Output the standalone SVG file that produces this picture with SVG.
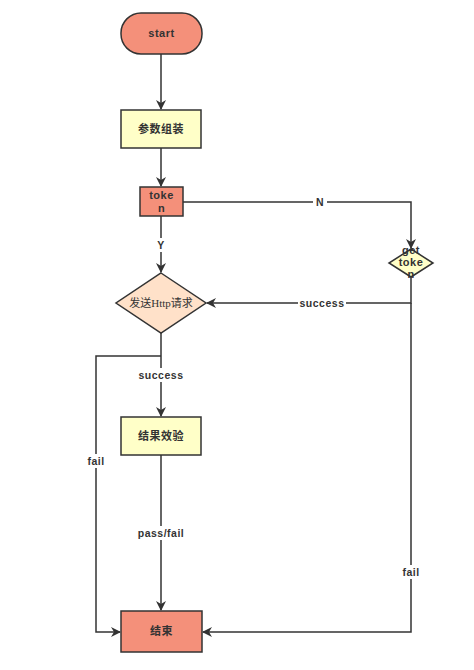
<svg xmlns="http://www.w3.org/2000/svg" width="474" height="670" viewBox="0 0 474 670">
<defs>
<marker id="arr" markerWidth="10" markerHeight="10" refX="9" refY="5" orient="auto" markerUnits="userSpaceOnUse">
<path d="M0,0 L10,5 L0,10 L3,5 Z" fill="#333"/>
</marker>
<style>
.salmon{fill:#F4907A;stroke:#333;stroke-width:1.5}
.yellow{fill:#FFFFC8;stroke:#333;stroke-width:1.5}
.peach{fill:#FFE1C9;stroke:#333;stroke-width:1.5}
.t{font-family:"Liberation Sans","Noto Sans CJK SC",sans-serif;font-size:11px;font-weight:bold;fill:#333;text-anchor:middle;letter-spacing:0.5px}
.c{fill:none;stroke:#333;stroke-width:1.5}
.lbl{font-family:"Liberation Sans",sans-serif;font-size:10.5px;font-weight:bold;fill:#333;text-anchor:middle;letter-spacing:0.5px}
.bg{fill:#fff}
</style>
</defs>
<rect width="474" height="670" fill="#fff"/>
<g id="connectors">
<path class="c" d="M161,54 V109" marker-end="url(#arr)"/>
<path class="c" d="M161,148 V186" marker-end="url(#arr)"/>
<path class="c" d="M161,216 V272" marker-end="url(#arr)"/>
<path class="c" d="M183,202 H411 V248" marker-end="url(#arr)"/>
<path class="c" d="M411,277 V303 H207" marker-end="url(#arr)"/>
<path class="c" d="M161,333 V416" marker-end="url(#arr)"/>
<path class="c" d="M161,356 H96 V632 H120" marker-end="url(#arr)"/>
<path class="c" d="M161,455 V610" marker-end="url(#arr)"/>
<path class="c" d="M411,303 V632 H203" marker-end="url(#arr)"/>
<rect class="bg" x="155" y="238" width="12" height="14"/>
<text class="lbl" x="161" y="249">Y</text>
<rect class="bg" x="313" y="196" width="14" height="13"/>
<text class="lbl" x="320" y="206">N</text>
<rect class="bg" x="298" y="297" width="48" height="13"/>
<text class="lbl" x="322" y="307">success</text>
<rect class="bg" x="137" y="368" width="48" height="14"/>
<text class="lbl" x="161" y="379">success</text>
<rect class="bg" x="86" y="454" width="21" height="14"/>
<text class="lbl" x="96" y="465">fail</text>
<rect class="bg" x="136" y="526" width="51" height="14"/>
<text class="lbl" x="161" y="537">pass/fail</text>
<rect class="bg" x="401" y="565" width="21" height="14"/>
<text class="lbl" x="411" y="576">fail</text>
</g>
<g id="start">
<rect class="salmon" x="121" y="13" width="81" height="41" rx="20" ry="20"/>
<text class="t" x="161.5" y="37">start</text>
</g>
<g id="params">
<rect class="yellow" x="121" y="110" width="80" height="38"/>
<text class="t" x="161" y="133">参数组装</text>
</g>
<g id="token">
<rect class="salmon" x="140" y="187" width="43" height="29"/>
<text class="t" x="161.5" y="199">toke</text>
<text class="t" x="161.5" y="212">n</text>
</g>
<g id="gettoken">
<polygon class="yellow" points="411,249 433,263 411,277 389,263"/>
<text class="t" x="411" y="254">get</text>
<text class="t" x="411" y="266">toke</text>
<text class="t" x="411" y="278">n</text>
</g>
<g id="send">
<polygon class="peach" points="161,273 206,303 161,333 116,303"/>
<text x="161" y="307" style="font-family:'Liberation Serif','Noto Sans CJK SC',serif;font-size:11px;fill:#333;text-anchor:middle">发送Http请求</text>
</g>
<g id="verify">
<rect class="yellow" x="121" y="417" width="80" height="38"/>
<text class="t" x="161" y="440">结果效验</text>
</g>
<g id="end">
<rect class="salmon" x="121" y="611" width="81" height="41"/>
<text class="t" x="161.5" y="635">结束</text>
</g>
</svg>
